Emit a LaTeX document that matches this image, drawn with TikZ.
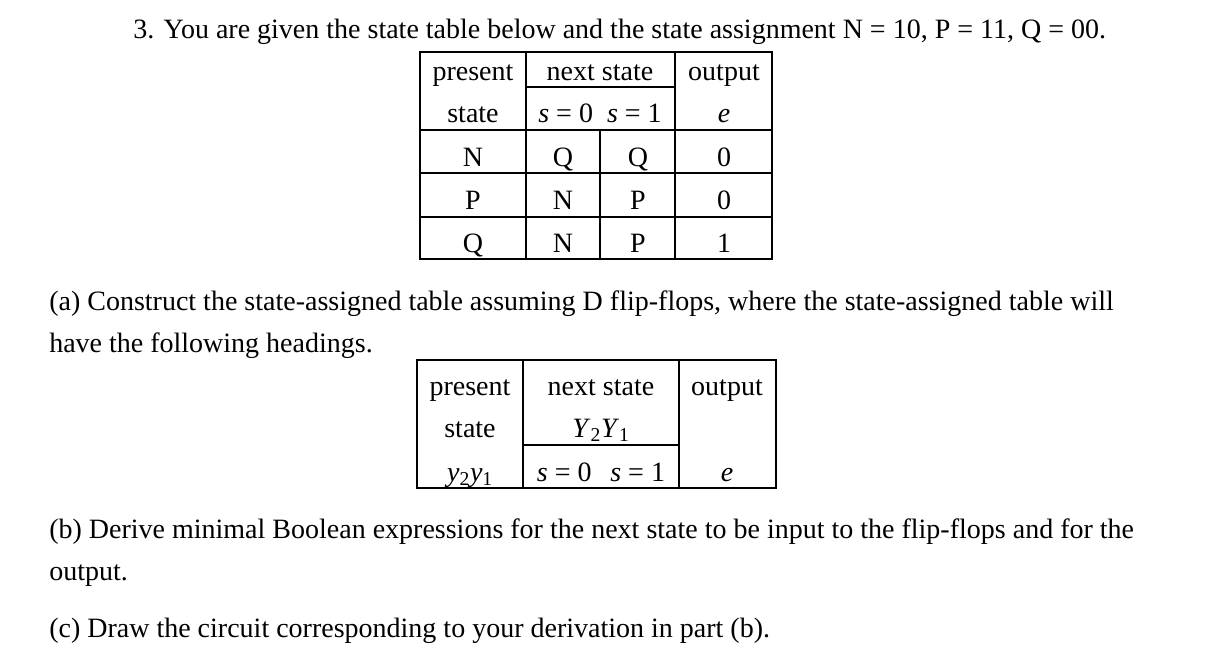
\documentclass[tikz,border=0pt]{standalone}
\usepackage{fontspec}
\setmainfont{Liberation Serif}
\newcommand{\sub}[1]{\textsubscript{#1}}
\begin{document}
\begin{tikzpicture}[x=0.75pt,y=-0.75pt,
  txt/.style={anchor=base west,inner sep=0pt,font=\fontsize{21}{24}\selectfont},
  cell/.style={anchor=base,inner sep=0pt,font=\fontsize{21}{24}\selectfont},
  rule/.style={line width=1.4pt}]
\useasboundingbox (0,0) rectangle (1208,671);
\node[txt] (l1) at (133,38) {3. You are given the state table below and the state assignment N = 10, P = 11, Q = 00.};
% table 1
\draw[rule] (420,52) rectangle (772,259);
\draw[rule] (526,52) -- (526,259) (675,52) -- (675,259) (600,130) -- (600,259);
\draw[rule] (526,87) -- (675,87);
\draw[rule] (420,130) -- (772,130) (420,173) -- (772,173) (420,217) -- (772,217);
\node[cell] (a1) at (473,80) {present};
\node[cell] (a2) at (600,80) {next state};
\node[cell] (a3) at (724,80) {output};
\node[cell] (b1) at (473,122) {state};
\node[cell] (b2) at (600,122) {\textit{s} = 0\enspace\textit{s} = 1};
\node[cell] (b3) at (724,122) {\textit{e}};
\node[cell] (c1) at (473,166) {N};
\node[cell] (c2) at (563,166) {Q};
\node[cell] (c3) at (638,166) {Q};
\node[cell] (c4) at (724,166) {0};
\node[cell] (d1) at (473,209) {P};
\node[cell] (d2) at (563,209) {N};
\node[cell] (d3) at (638,209) {P};
\node[cell] (d4) at (724,209) {0};
\node[cell] (e1) at (473,252) {Q};
\node[cell] (e2) at (563,252) {N};
\node[cell] (e3) at (638,252) {P};
\node[cell] (e4) at (724,252) {1};
\node[txt] (pa) at (49,310) {(a) Construct the state-assigned table assuming D flip-flops, where the state-assigned table will};
\node[txt] (pa2) at (49,352) {have the following headings.};
% table 2
\draw[rule] (417,360) rectangle (776,488);
\draw[rule] (523,360) -- (523,488) (679,360) -- (679,488);
\draw[rule] (523,445) -- (679,445);
\node[cell] (f1) at (470,395) {present};
\node[cell] (f2) at (601,395) {next state};
\node[cell] (f3) at (727,395) {output};
\node[cell] (g1) at (470,437) {state};
\node[cell] (g2) at (601,437) {\textit{Y}\sub{2}\textit{Y}\sub{1}};
\node[cell] (h1) at (470,481) {\textit{y}\sub{2}\textit{y}\sub{1}};
\node[cell] (h2) at (601,481) {\textit{s} = 0\enspace\,\textit{s} = 1};
\node[cell] (h3) at (727,481) {\textit{e}};
\node[txt] (pb) at (49,538) {(b) Derive minimal Boolean expressions for the next state to be input to the flip-flops and for the};
\node[txt] (pb2) at (49,580) {output.};
\node[txt] (pc) at (49,637) {(c) Draw the circuit corresponding to your derivation in part (b).};
\end{tikzpicture}
\end{document}
